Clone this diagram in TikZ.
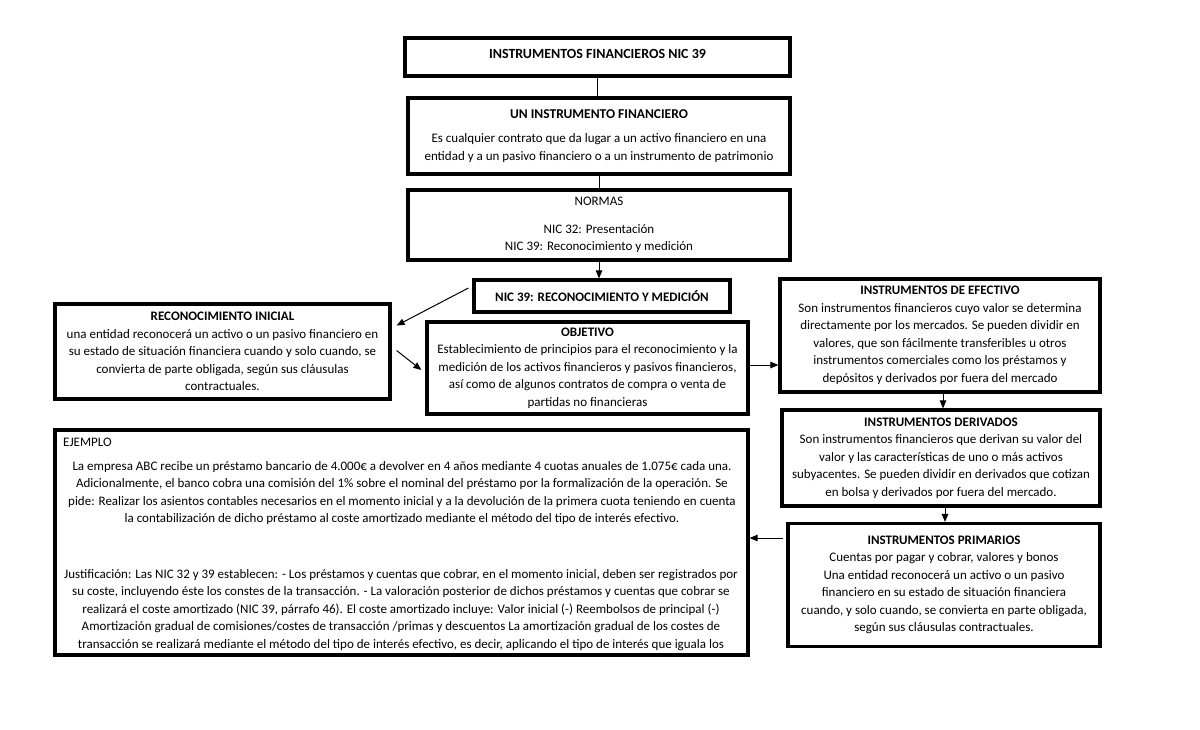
\documentclass[tikz,border=0pt]{standalone}
\usepackage{fontspec}
\setmainfont{Carlito}
\usetikzlibrary{arrows.meta}
\begin{document}
\begin{tikzpicture}[x=1pt, y=-1pt,
    every node/.style={font=\fontsize{13}{17.5}\selectfont, align=center, inner sep=0pt},
    box/.style={draw, line width=3.2pt},
    arr/.style={line width=1pt, -{Triangle[length=8pt, width=6.5pt]}}]
  \useasboundingbox (0,0) rectangle (1200,729);
  % upper column
  \node[box, minimum width=385, minimum height=38, text depth=7pt, font=\fontsize{14}{17.5}\selectfont] (T) at (597.5,57) {\textbf{INSTRUMENTOS FINANCIEROS NIC 39}};
  \node[box, minimum width=382, minimum height=76] (D) at (599,136) {\fontsize{13.5}{17.5}\selectfont\textbf{UN INSTRUMENTO FINANCIERO}\\[6.5pt]
    Es cualquier contrato que da lugar a un activo financiero en una\\
    entidad y a un pasivo financiero o a un instrumento de patrimonio};
  \node[box, minimum width=382, minimum height=70] (N) at (599,225) {NORMAS\\[10.5pt]
    NIC 32: Presentación\\ NIC 39: Reconocimiento y medición};
  \node[box, minimum width=256, minimum height=32] (M) at (602,296) {\textbf{NIC 39: RECONOCIMIENTO Y MEDICIÓN}};
  \node[box, minimum width=335, minimum height=95] (RI) at (222.5,351.5) {\textbf{RECONOCIMIENTO INICIAL}\\
    una entidad reconocerá un activo o un pasivo financiero en\\
    su estado de situación financiera cuando y solo cuando, se\\
    convierta de parte obligada, según sus cláusulas\\ contractuales.};
  \node[box, minimum width=321, minimum height=92] (OB) at (587.5,368) {\textbf{OBJETIVO}\\
    Establecimiento de principios para el reconocimiento y la\\
    medición de los activos financieros y pasivos financieros,\\
    así como de algunos contratos de compra o venta de\\ partidas no financieras};
  % right column
  \node[box, minimum width=320, minimum height=113] (EF) at (940,335.5) {\textbf{INSTRUMENTOS DE EFECTIVO}\\
    Son instrumentos financieros cuyo valor se determina\\
    directamente por los mercados. Se pueden dividir en\\
    valores, que son fácilmente transferibles u otros\\
    instrumentos comerciales como los préstamos y\\
    depósitos y derivados por fuera del mercado};
  \node[box, minimum width=318, minimum height=96] (DE) at (941,458) {\textbf{INSTRUMENTOS DERIVADOS}\\
    Son instrumentos financieros que derivan su valor del\\
    valor y las características de uno o más activos\\
    subyacentes. Se pueden dividir en derivados que cotizan\\
    en bolsa y derivados por fuera del mercado.};
  \node[box, minimum width=312, minimum height=123] (PR) at (944,585) {\textbf{INSTRUMENTOS PRIMARIOS}\\
    Cuentas por pagar y cobrar, valores y bonos\\
    Una entidad reconocerá un activo o un pasivo\\
    financiero en su estado de situación financiera\\
    cuando, y solo cuando, se convierta en parte obligada,\\
    según sus cláusulas contractuales.};
  % example
  \node[box, minimum width=693, minimum height=225] (EJ) at (401.5,542.5) {};
  \node[anchor=base west] (EJt) at (63,446) {EJEMPLO};
  \node[anchor=north] (EJa) at (402,461) {La empresa ABC recibe un préstamo bancario de 4.000€ a devolver en 4 años mediante 4 cuotas anuales de 1.075€ cada una.\\
    Adicionalmente, el banco cobra una comisión del 1\% sobre el nominal del préstamo por la formalización de la operación. Se\\
    pide: Realizar los asientos contables necesarios en el momento inicial y a la devolución de la primera cuota teniendo en cuenta\\
    la contabilización de dicho préstamo al coste amortizado mediante el método del tipo de interés efectivo.};
  \node[anchor=north] (EJb) at (401,569) {Justificación: Las NIC 32 y 39 establecen: - Los préstamos y cuentas que cobrar, en el momento inicial, deben ser registrados por\\
    su coste, incluyendo éste los constes de la transacción. - La valoración posterior de dichos préstamos y cuentas que cobrar se\\
    realizará el coste amortizado (NIC 39, párrafo 46). El coste amortizado incluye: Valor inicial (-) Reembolsos de principal (-)\\
    Amortización gradual de comisiones/costes de transacción /primas y descuentos La amortización gradual de los costes de\\
    transacción se realizará mediante el método del tipo de interés efectivo, es decir, aplicando el tipo de interés que iguala los};
  % connectors
  \coordinate (PRo) at (783,538);
  \draw[line width=1pt] (T.south) -- (T.south |- D.north);
  \draw[line width=0.8pt] (D.south) -- (D.south |- N.north);
  \draw[arr] (N.south) -- (N.south |- M.north);
  \draw[arr] ([xshift=-4pt, yshift=8pt]M.west) -- ([xshift=5pt, yshift=26pt]RI.east);
  \draw[arr] ([xshift=5pt, yshift=1pt]RI.east) -- ([xshift=-4pt, yshift=-2pt]OB.west);
  \draw[arr] ([yshift=3pt]OB.east) -- ([yshift=3pt]OB.east -| EF.west);
  \draw[arr] ([xshift=3pt]EF.south) -- ([xshift=3pt]EF.south |- DE.north);
  \draw[arr] ([xshift=4pt]DE.south) -- ([xshift=4pt]DE.south |- PR.north);
  \draw[arr] (PRo) -- (PRo -| EJ.east);
\end{tikzpicture}
\end{document}
